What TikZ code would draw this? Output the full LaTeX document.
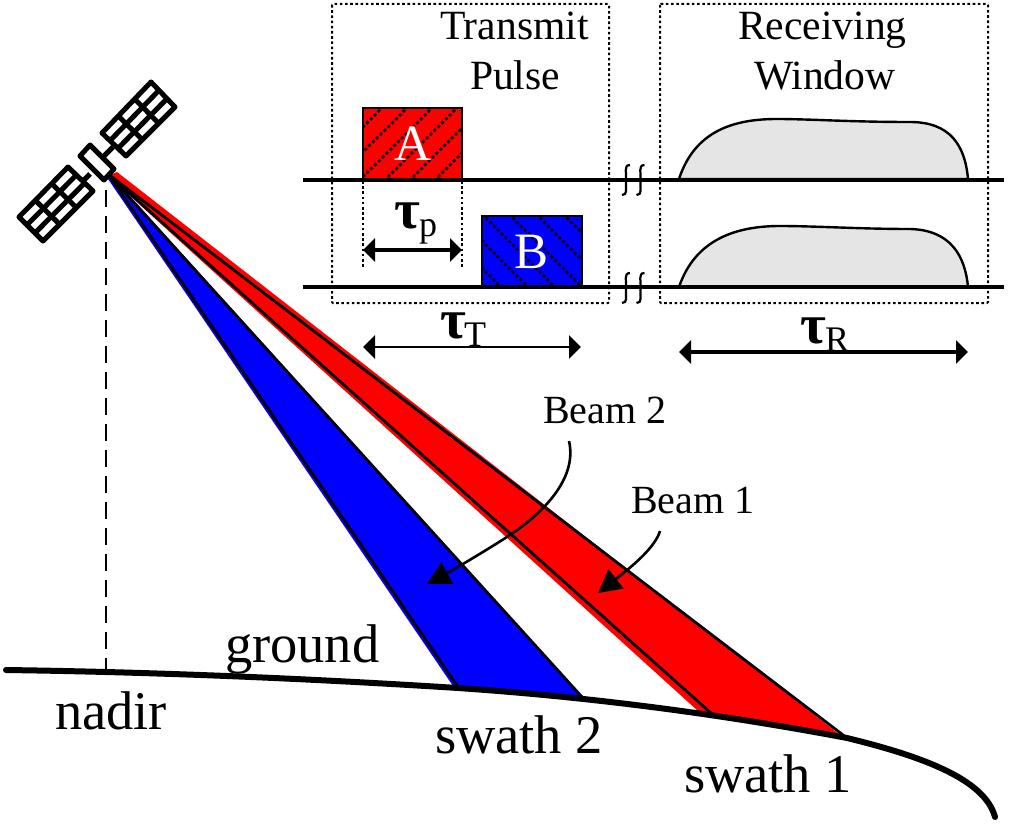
\documentclass[tikz,border=0pt]{standalone}
\usepackage{fontspec}
\setmainfont{Liberation Serif}
\usetikzlibrary{arrows.meta,calc}
\definecolor{beamred}{RGB}{255,0,0}
\definecolor{beamblue}{RGB}{0,0,255}
\definecolor{humpgrey}{RGB}{229,229,229}
\newcommand{\fs}[1]{\fontsize{#1}{#1}\selectfont}
\newcommand{\panelgrid}[4]{%
  \draw[satline,fill=white] (#1) -- (#2) -- (#3) -- (#4) -- cycle;
  \foreach \f in {0.333,0.667}{
    \draw[satline] ($(#1)!\f!(#2)$) -- ($(#4)!\f!(#3)$);
    \draw[satline] ($(#1)!\f!(#4)$) -- ($(#2)!\f!(#3)$);
  }}
\tikzset{
  lbl/.style={anchor=base west,inner sep=0pt,outer sep=0pt,text=black},
  lbig/.style={lbl,font=\fs{54.5}},
  lhead/.style={lbl,font=\fs{41.6}},
  lbeam/.style={lbl,font=\fs{40}},
  lpulse/.style={lbl,font=\fs{51},text=white},
  ltau/.style={lbl,font=\fs{56}\bfseries},
  lsub/.style={lbl,font=\fs{36}},
  dotbox/.style={draw=black,line width=2pt,dash pattern=on 2.6pt off 2.6pt},
  hatch/.style={draw=black,line width=2.8pt,dash pattern=on 3pt off 2.4pt},
  satline/.style={draw=black,line width=5pt,line join=round},
  baseline line/.style={draw=black,line width=3.2pt},
  edge line/.style={draw=black,line width=2.8pt},
  dimarrow/.style={draw=black,{Triangle[length=12pt,width=23pt]}-{Triangle[length=12pt,width=23pt]}},
  callout/.style={draw=black,line width=2.6pt,-{Triangle[length=23pt,width=24pt]}},
  squig/.style={draw=black,line width=2.2pt},
  hump/.style={draw=black,fill=humpgrey,line width=2.4pt}
}
\begin{document}
\begin{tikzpicture}[x=1pt,y=-1pt]
\useasboundingbox (0,0) rectangle (1024,824);
% anchor points
\coordinate (apex) at (108,174);
\coordinate (r1) at (847,738);
\coordinate (r2) at (712,714);
\coordinate (b1) at (458,687);
\coordinate (b2) at (582,697);
% beams
\fill[beamred] (117,172) -- (844,738) -- (698,711) -- (108,176) -- cycle;
\fill[beamblue] (106,176) -- (453,686) -- (582,697) -- (112,176) -- cycle;
\draw[edge line] (apex) -- (r1);
\draw[edge line] (apex) -- (r2);
\draw[edge line] (apex) -- (b1);
\draw[edge line] (apex) -- (b2);
% nadir
\coordinate (nadirtop) at (106,190);
\coordinate (nadirfoot) at (106,670);
\draw[black,line width=2pt,dash pattern=on 17pt off 9pt] (nadirtop) -- (nadirfoot);
% ground
\draw[black,line width=6pt,line cap=round,line join=round]
  (6,670) .. controls (150,672) and (300,678) .. (458,688)
  .. controls (590,697) and (720,714) .. (847,738)
  .. controls (925,757) and (985,780) .. (995,817);
% satellite
\coordinate (ua) at (102,133); \coordinate (ub) at (151,82);
\coordinate (uc) at (175,107); \coordinate (ud) at (126,156);
\coordinate (la) at (19,217); \coordinate (lb) at (68,167);
\coordinate (lc) at (93,191); \coordinate (ld) at (43,241);
\draw[satline] (113,147) -- (103,157);
\draw[satline] (90,174) -- (81,183);
\panelgrid{ua}{ub}{uc}{ud}
\panelgrid{la}{lb}{lc}{ld}
\draw[satline,fill=white] (90,145) -- (80,156) -- (104,180) -- (114,169) -- cycle;
% pulse boxes
\fill[beamred] (363,108) rectangle (462,180);
\begin{scope}
  \clip (363,108) rectangle (462,180);
  \foreach \c in {465,490,...,665}{
    \draw[hatch] (\c-200,200) -- (\c+0,0);
  }
\end{scope}
\draw[black,line width=2.4pt] (363,180) -- (363,108) -- (462,108) -- (462,180);
\fill[beamblue] (482,216) rectangle (582,287);
\begin{scope}
  \clip (482,216) rectangle (582,287);
  \foreach \c in {160,187,...,400}{
    \draw[hatch] (\c,0) -- (\c+320,320);
  }
\end{scope}
\draw[black,line width=2.4pt] (482,287) -- (482,216) -- (582,216) -- (582,287);
% humps
\draw[hump] (679,179) .. controls (695,130) and (735,119) .. (777,119)
  .. controls (810,119) and (850,122) .. (910,122)
  .. controls (950,122) and (965,145) .. (968,179) -- cycle;
\draw[hump] (679,287) .. controls (695,240) and (735,226) .. (780,226)
  .. controls (815,226) and (860,229) .. (910,229)
  .. controls (950,230) and (965,255) .. (968,287) -- cycle;
% time axes
\coordinate (ax1l) at (303,180); \coordinate (ax1r) at (1004,180);
\coordinate (ax2l) at (303,287); \coordinate (ax2r) at (1004,287);
\draw[baseline line] (ax1l) -- (ax1r);
\draw[baseline line] (ax2l) -- (ax2r);
% dotted frames
\draw[dotbox,rounded corners=1pt] (332,4) rectangle (609,303);
\draw[dotbox,rounded corners=1pt] (660,4) rectangle (988,303);
% tick guides
\coordinate (tl1) at (363,181); \coordinate (tl2) at (363,267);
\coordinate (tr1) at (462,181); \coordinate (tr2) at (462,267);
\draw[dotbox] (tl1) -- (tl2);
\draw[dotbox] (tr1) -- (tr2);
% break marks
\foreach \y in {0,108}{
  \foreach \x in {0,14.5}{
    \draw[squig,xshift=\x pt,yshift=-\y pt] (630,165) .. controls (623,165) and (627,174) .. (626,180)
      .. controls (625.5,189) and (628,195) .. (622,195);
  }
}
% dimension arrows
\coordinate (tpa) at (363,250); \coordinate (tpb) at (462,250);
\draw[dimarrow,line width=3.4pt] (tpa) -- (tpb);
\coordinate (tta) at (363,347); \coordinate (ttb) at (581,347);
\draw[dimarrow,line width=2.4pt] (tta) -- (ttb);
\coordinate (tra) at (679,352); \coordinate (trb) at (968,352);
\draw[dimarrow,line width=3.4pt] (tra) -- (trb);
% callouts
\coordinate (c2s) at (569,441); \coordinate (c2e) at (427,584);
\draw[callout] (c2s) .. controls (578,480) and (540,515) .. (510,535)
  .. controls (490,548) and (460,566) .. (c2e);
\coordinate (c1s) at (660,531); \coordinate (c1e) at (598,593);
\draw[callout] (c1s) .. controls (655,548) and (630,568) .. (c1e);
% labels
\node[lhead] (ttx) at (440,40) {Transmit};
\node[lhead] (ptx) at (470,90) {Pulse};
\node[lhead] (rtx) at (738,40) {Receiving};
\node[lhead] (wtx) at (754,90) {Window};
\node[lpulse] (pa) at (394,160) {A};
\node[lpulse] (pb) at (514,268) {B};
\node[ltau] (t1) at (394,228) {τ};
\node[lsub] (t1s) at (419,236) {p};
\node[ltau] (t2) at (440,338) {τ};
\node[lsub] (t2s) at (464,346) {T};
\node[ltau] (t3) at (800,343) {τ};
\node[lsub] (t3s) at (825,351) {R};
\node[lbeam] (beam2) at (543,423) {Beam 2};
\node[lbeam] (beam1) at (631,513) {Beam 1};
\node[lbig] (nadir) at (55,729) {nadir};
\node[lbig] (ground) at (225,662) {ground};
\node[lbig] (sw2) at (435,753) {swath 2};
\node[lbig] (sw1) at (684,792) {swath 1};
\end{tikzpicture}
\end{document}
